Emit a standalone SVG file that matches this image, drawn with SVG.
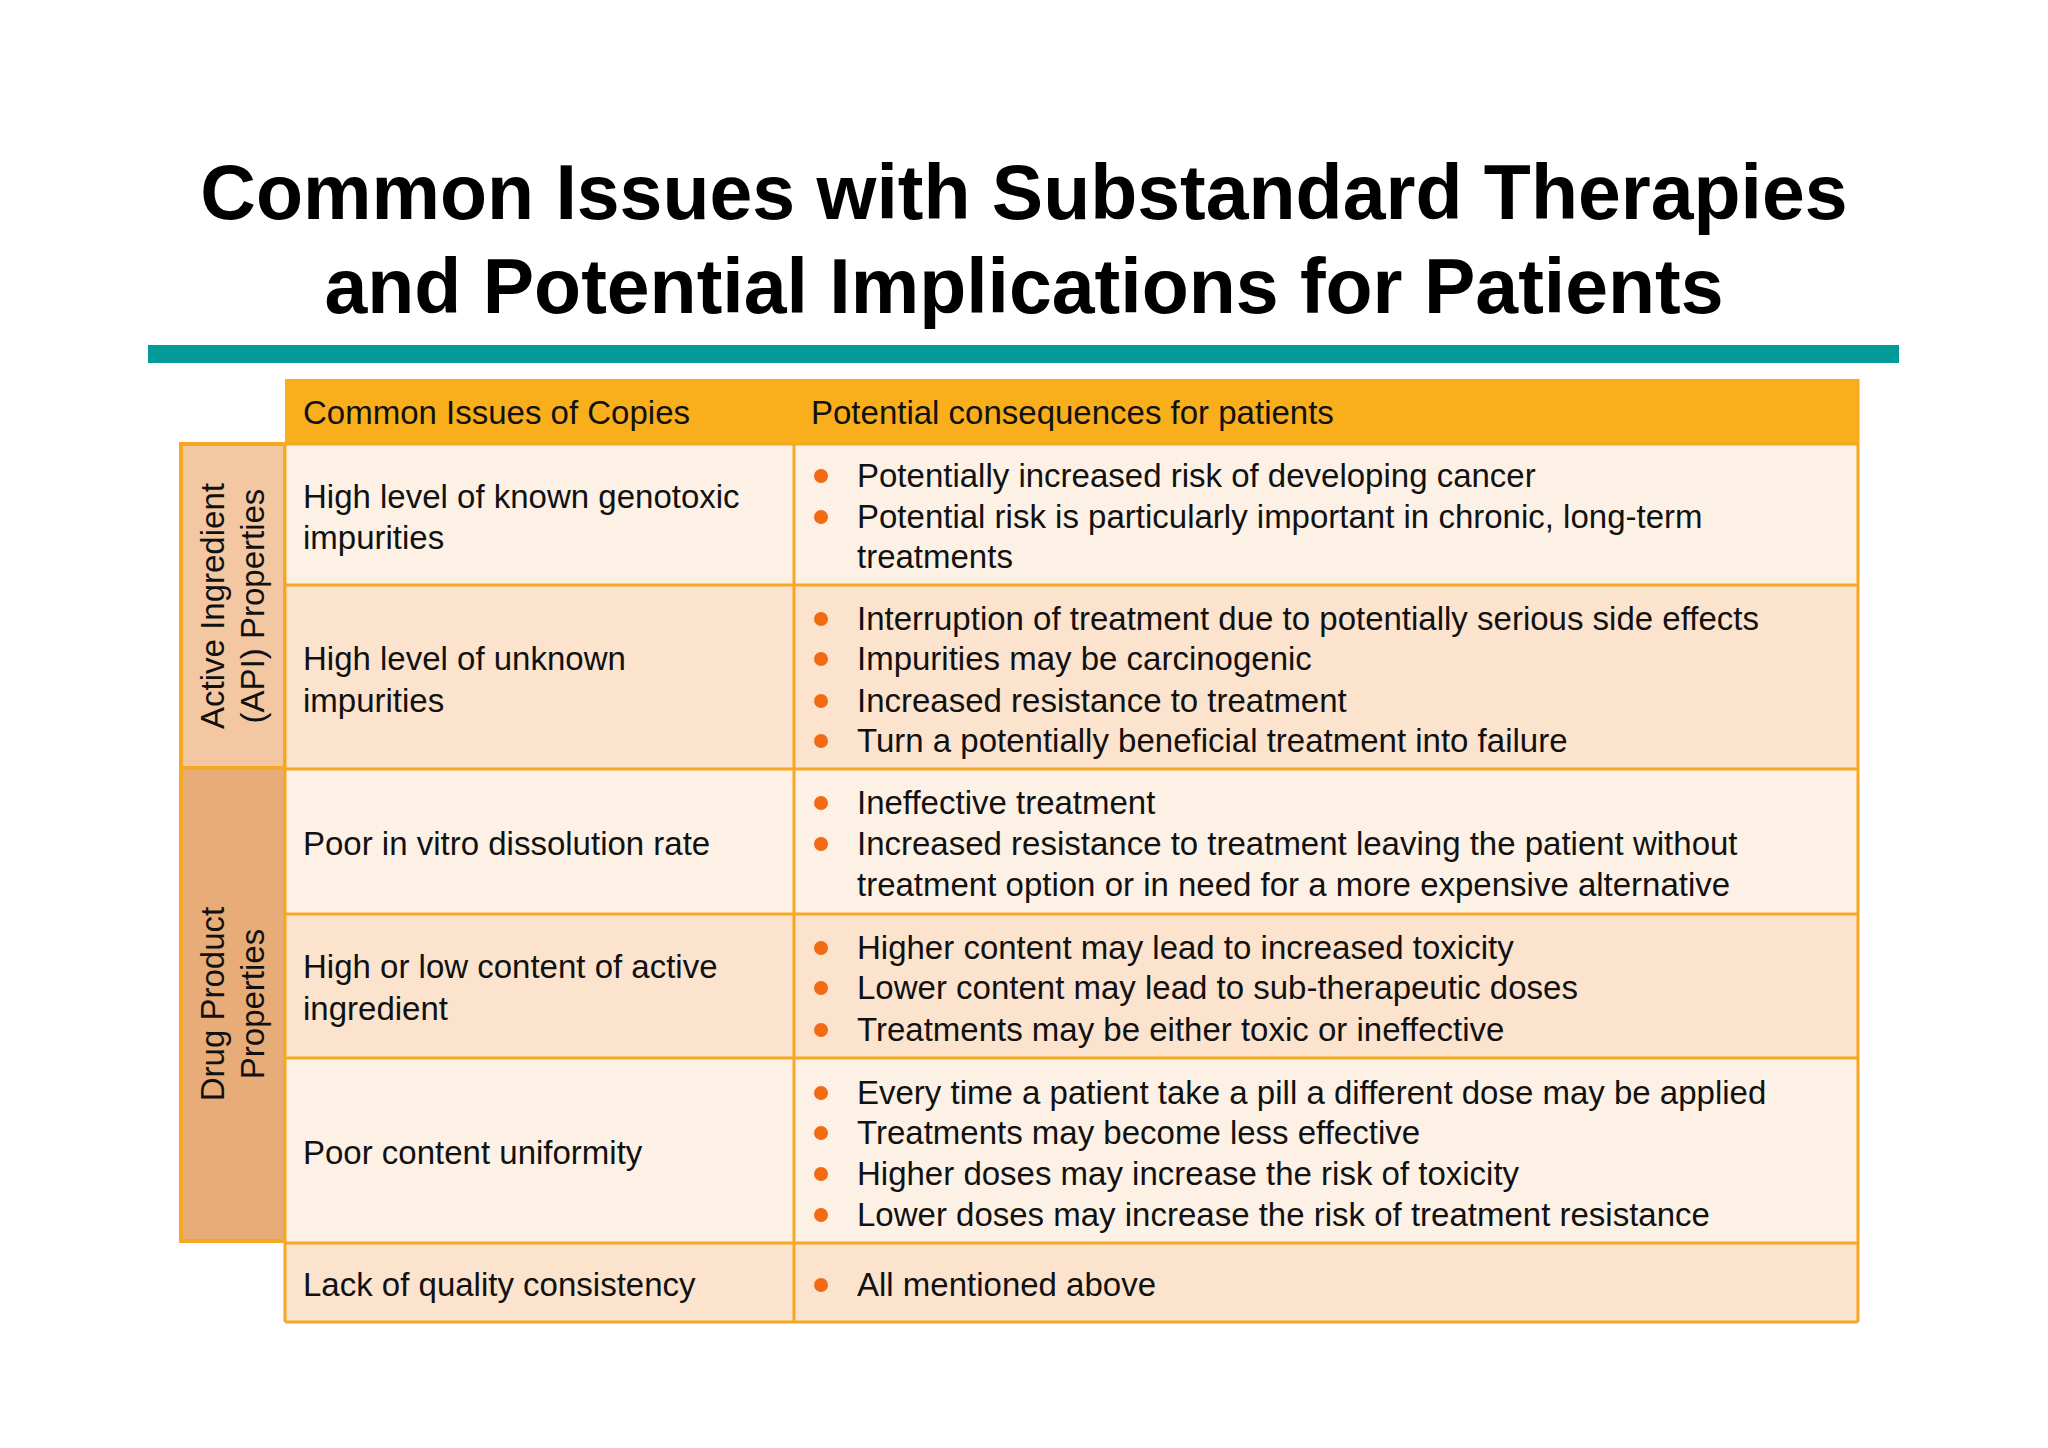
<svg xmlns="http://www.w3.org/2000/svg" width="2048" height="1448" viewBox="0 0 2048 1448">
<style>
.t{font-family:"Liberation Sans",Arial,sans-serif;font-size:33px;fill:#111}
.h{font-family:"Liberation Sans",Arial,sans-serif;font-size:77px;font-weight:bold;fill:#000;text-anchor:middle}
.b{fill:#F26A12}
.ln{stroke:#F7A823;stroke-width:3;fill:none}
.g{stroke:#F7A823;stroke-width:4}
.r1{fill:#FDF1E6}.r2{fill:#FCE3CE}
</style>
<rect width="2048" height="1448" fill="#fff"/>
<g id="title">
<text class="h" x="1024" y="219">Common Issues with Substandard Therapies</text>
<text class="h" x="1024" y="313">and Potential Implications for Patients</text>
<rect x="148" y="345" width="1751" height="18" fill="#049A97"/>
</g>
<g id="header">
<rect x="285" y="379" width="1573" height="65" fill="#F9AE1B"/>
<text class="t" x="303" y="424">Common Issues of Copies</text>
<text class="t" x="811" y="424">Potential consequences for patients</text>
</g>
<g id="groups">
<rect class="g" x="181" y="444" width="104" height="324" fill="#F2C7A2"/>
<text class="t" transform="translate(224,606) rotate(-90)" text-anchor="middle">Active Ingredient</text>
<text class="t" transform="translate(264,606) rotate(-90)" text-anchor="middle">(API) Properties</text>
<rect class="g" x="181" y="768" width="104" height="473" fill="#E8AC79"/>
<text class="t" transform="translate(224,1004) rotate(-90)" text-anchor="middle">Drug Product</text>
<text class="t" transform="translate(264,1004) rotate(-90)" text-anchor="middle">Properties</text>
</g>
<g id="rows">
<rect class="r1" x="285" y="444" width="1573" height="141"/>
<rect class="r2" x="285" y="585" width="1573" height="184"/>
<rect class="r1" x="285" y="769" width="1573" height="145"/>
<rect class="r2" x="285" y="914" width="1573" height="144"/>
<rect class="r1" x="285" y="1058" width="1573" height="185"/>
<rect class="r2" x="285" y="1243" width="1573" height="79"/>
</g>
<g id="grid">
<path class="ln" d="M285 444H1858M285 585H1858M285 769H1858M285 914H1858M285 1058H1858M285 1243H1858M285 1322H1858M285 444V1322M794 444V1322M1858 379V1322"/>
</g>
<g id="row1">
<text class="t" x="303" y="508">High level of known genotoxic</text>
<text class="t" x="303" y="549">impurities</text>
<circle class="b" cx="821" cy="476" r="7"/><text class="t" x="857" y="487">Potentially increased risk of developing cancer</text>
<circle class="b" cx="821" cy="517" r="7"/><text class="t" x="857" y="528">Potential risk is particularly important in chronic, long-term</text>
<text class="t" x="857" y="568">treatments</text>
</g>
<g id="row2">
<text class="t" x="303" y="670">High level of unknown</text>
<text class="t" x="303" y="712">impurities</text>
<circle class="b" cx="821" cy="619" r="7"/><text class="t" x="857" y="630">Interruption of treatment due to potentially serious side effects</text>
<circle class="b" cx="821" cy="659" r="7"/><text class="t" x="857" y="670">Impurities may be carcinogenic</text>
<circle class="b" cx="821" cy="701" r="7"/><text class="t" x="857" y="712">Increased resistance to treatment</text>
<circle class="b" cx="821" cy="741" r="7"/><text class="t" x="857" y="752">Turn a potentially beneficial treatment into failure</text>
</g>
<g id="row3">
<text class="t" x="303" y="855">Poor in vitro dissolution rate</text>
<circle class="b" cx="821" cy="803" r="7"/><text class="t" x="857" y="814">Ineffective treatment</text>
<circle class="b" cx="821" cy="844" r="7"/><text class="t" x="857" y="855">Increased resistance to treatment leaving the patient without</text>
<text class="t" x="857" y="896">treatment option or in need for a more expensive alternative</text>
</g>
<g id="row4">
<text class="t" x="303" y="978">High or low content of active</text>
<text class="t" x="303" y="1020">ingredient</text>
<circle class="b" cx="821" cy="948" r="7"/><text class="t" x="857" y="959">Higher content may lead to increased toxicity</text>
<circle class="b" cx="821" cy="988" r="7"/><text class="t" x="857" y="999">Lower content may lead to sub-therapeutic doses</text>
<circle class="b" cx="821" cy="1030" r="7"/><text class="t" x="857" y="1041">Treatments may be either toxic or ineffective</text>
</g>
<g id="row5">
<text class="t" x="303" y="1164">Poor content uniformity</text>
<circle class="b" cx="821" cy="1093" r="7"/><text class="t" x="857" y="1104">Every time a patient take a pill a different dose may be applied</text>
<circle class="b" cx="821" cy="1133" r="7"/><text class="t" x="857" y="1144">Treatments may become less effective</text>
<circle class="b" cx="821" cy="1174" r="7"/><text class="t" x="857" y="1185">Higher doses may increase the risk of toxicity</text>
<circle class="b" cx="821" cy="1215" r="7"/><text class="t" x="857" y="1226">Lower doses may increase the risk of treatment resistance</text>
</g>
<g id="row6">
<text class="t" x="303" y="1296">Lack of quality consistency</text>
<circle class="b" cx="821" cy="1285" r="7"/><text class="t" x="857" y="1296">All mentioned above</text>
</g>
</svg>
